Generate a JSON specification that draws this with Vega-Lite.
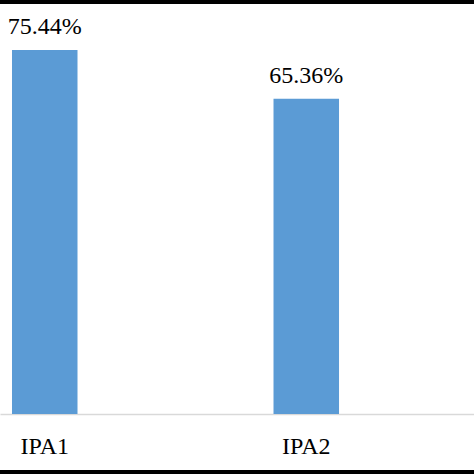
{
  "$schema": "https://vega.github.io/schema/vega-lite/v6.json",
  "width": 474,
  "height": 414,
  "autosize": {"type": "none"},
  "padding": {"left": 0, "right": 0, "top": 0, "bottom": 60},
  "background": "white",
  "config": {"view": {"stroke": null}},
  "data": {
    "values": [
      {"group": "IPA1", "pct": 0.7544},
      {"group": "IPA2", "pct": 0.6536}
    ]
  },
  "layer": [
    {
      "mark": {"type": "bar", "color": "#5b9bd5"},
      "encoding": {
        "x": {
          "field": "group",
          "type": "nominal",
          "sort": null,
          "scale": {"paddingInner": 0.7495, "paddingOuter": 0.281, "align": 0.0816},
          "axis": {
            "title": null,
            "labelAngle": 0,
            "ticks": false,
            "domainColor": "#d9d9d9",
            "domainWidth": 1.5,
            "labelFont": "'Liberation Serif', 'Times New Roman', serif",
            "labelFontSize": 24,
            "labelColor": "black",
            "labelBaseline": "alphabetic",
            "labelPadding": 39
          }
        },
        "y": {
          "field": "pct",
          "type": "quantitative",
          "scale": {"domain": [0, 0.858], "nice": false},
          "axis": null
        }
      }
    },
    {
      "mark": {"type": "text", "font": "'Liberation Serif', 'Times New Roman', serif", "fontSize": 24, "color": "black", "baseline": "alphabetic", "dy": -16},
      "encoding": {
        "x": {"field": "group", "type": "nominal", "sort": null},
        "y": {"field": "pct", "type": "quantitative"},
        "text": {"field": "pct", "type": "quantitative", "format": ".2%"}
      }
    },
    {
      "mark": {"type": "rule", "color": "black", "strokeWidth": 4, "clip": false},
      "encoding": {
        "y": {"datum": 0.8539, "type": "quantitative"}
      }
    },
    {
      "mark": {"type": "rule", "color": "black", "strokeWidth": 4, "clip": false},
      "encoding": {
        "y": {"datum": -0.1202, "type": "quantitative"}
      }
    }
  ]
}
